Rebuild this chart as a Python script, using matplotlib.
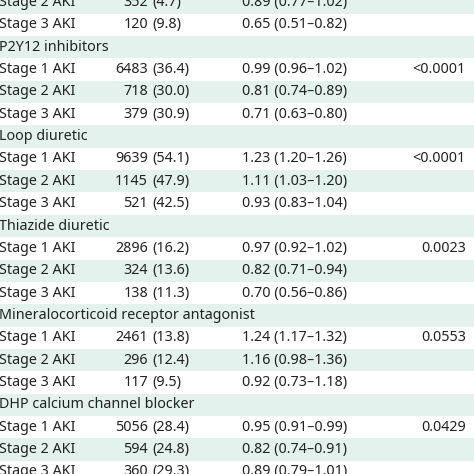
import matplotlib
matplotlib.use("Agg")
import matplotlib.pyplot as plt
from matplotlib.patches import Rectangle

labels = ["Stage 2 AKI", "Stage 3 AKI",
          "P2Y12 inhibitors", "Stage 1 AKI", "Stage 2 AKI", "Stage 3 AKI",
          "Loop diuretic", "Stage 1 AKI", "Stage 2 AKI", "Stage 3 AKI",
          "Thiazide diuretic", "Stage 1 AKI", "Stage 2 AKI", "Stage 3 AKI",
          "Mineralocorticoid receptor antagonist", "Stage 1 AKI", "Stage 2 AKI", "Stage 3 AKI",
          "DHP calcium channel blocker", "Stage 1 AKI", "Stage 2 AKI", "Stage 3 AKI"]
counts = ["352", "120", "", "6483", "718", "379", "", "9639", "1145", "521", "",
          "2896", "324", "138", "", "2461", "296", "117", "", "5056", "594", "360"]
pcts = ["(4.7)", "(9.8)", "", "(36.4)", "(30.0)", "(30.9)", "", "(54.1)", "(47.9)", "(42.5)", "",
        "(16.2)", "(13.6)", "(11.3)", "", "(13.8)", "(12.4)", "(9.5)", "", "(28.4)", "(24.8)", "(29.3)"]
ors = ["0.89 (0.77–1.02)", "0.65 (0.51–0.82)", "", "0.99 (0.96–1.02)", "0.81 (0.74–0.89)",
       "0.71 (0.63–0.80)", "", "1.23 (1.20–1.26)", "1.11 (1.03–1.20)", "0.93 (0.83–1.04)", "",
       "0.97 (0.92–1.02)", "0.82 (0.71–0.94)", "0.70 (0.56–0.86)", "",
       "1.24 (1.17–1.32)", "1.16 (0.98–1.36)", "0.92 (0.73–1.18)", "",
       "0.95 (0.91–0.99)", "0.82 (0.74–0.91)", "0.89 (0.79–1.01)"]
pvals = ["", "", "", "<0.0001", "", "", "", "<0.0001", "", "", "",
         "0.0023", "", "", "", "0.0553", "", "", "", "0.0429", "", ""]

W = H = 474
fig = plt.figure(figsize=(4.74, 4.74), dpi=100)
ax = fig.add_axes([0, 0, 1, 1])
ax.set_xlim(0, W)
ax.set_ylim(H, 0)
ax.axis("off")

step = 22.35
y0 = 2.5
fs = 10.3
kw = dict(fontsize=fs, family="Noto Sans", color="#222222", va="center")
for i, lab in enumerate(labels):
    y = y0 + step * i
    if i % 2 == 0:
        ax.add_patch(Rectangle((0, y - step / 2), W, step, color="#e4f2ee", lw=0))
    ax.text(-1, y, lab, ha="left", **kw)
    if counts[i]:
        ax.text(148, y, counts[i], ha="right", **kw)
        ax.text(152, y, pcts[i], ha="left", **kw)
        ax.text(242, y, ors[i], ha="left", **kw)
    if pvals[i]:
        ax.text(466, y, pvals[i], ha="right", **kw)

fig.savefig("out.png", dpi=100)
